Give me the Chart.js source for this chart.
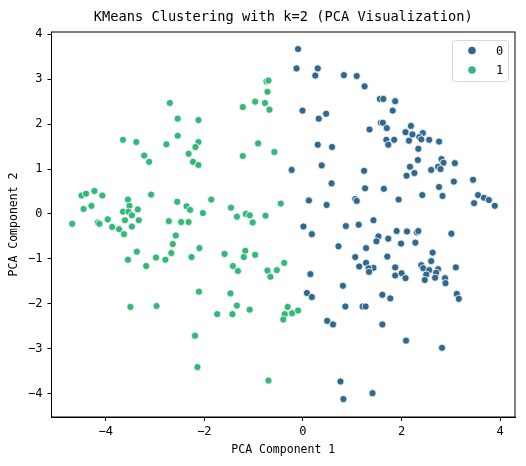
<!DOCTYPE html>
<html>
<head>
<meta charset="utf-8">
<script src="https://cdn.jsdelivr.net/npm/chart.js@4"></script>
<style>
  html, body { margin: 0; padding: 0; background: #ffffff; }
  canvas { display: block; }
</style>
</head>
<body>
<canvas id="chart" width="526" height="466"></canvas>
<script>
// cluster labels and colours (viridis, 2 colours)
const clusterLabels = ['0', '1'];
const clusterColors = ['#31688e', '#35b779'];
const chartTitle = 'KMeans Clustering with k=2 (PCA Visualization)';

// cluster 0 points [PC1, PC2]
const cluster0 = [
  [-0.10, 3.67], [-0.13, 3.24], [0.30, 3.24], [0.25, 3.08], [0.83, 3.09], [1.09, 3.07],
  [1.25, 2.84], [1.56, 2.56], [1.63, 2.56], [1.87, 2.51], [1.82, 2.30], [-0.01, 2.30],
  [0.47, 2.23], [0.32, 2.12], [1.58, 2.03], [1.62, 2.03], [1.70, 1.91], [1.35, 1.88],
  [1.69, 1.65], [1.85, 1.65], [1.73, 1.54], [0.30, 1.54], [0.59, 1.49], [-0.23, 0.98],
  [0.38, 1.08], [1.24, 0.96], [0.58, 0.68], [1.26, 0.57], [1.64, 0.56], [0.12, 0.30],
  [0.48, 0.20], [1.06, 0.33], [1.09, 0.29], [1.94, 0.32], [2.19, 1.96], [2.08, 1.82],
  [2.22, 1.77], [2.43, 1.80], [2.36, 1.71], [2.40, 1.66], [2.56, 1.65], [2.76, 1.61],
  [2.15, 1.63], [2.34, 1.45], [2.33, 1.20], [2.17, 1.05], [2.26, 0.91], [2.10, 0.85],
  [2.81, 1.22], [2.85, 1.14], [2.74, 1.05], [2.79, 1.00], [2.60, 0.98], [3.08, 1.13],
  [3.06, 0.72], [2.76, 0.60], [3.45, 0.76], [2.42, 0.42], [2.83, 0.40], [3.55, 0.42],
  [3.67, 0.36], [3.77, 0.31], [3.89, 0.18], [3.47, 0.24], [0.01, -0.28], [0.18, -0.45],
  [0.87, -0.27], [1.13, -0.24], [1.43, -0.14], [1.53, -0.50], [1.49, -0.61], [1.73, -0.55],
  [1.90, -0.38], [0.72, -0.72], [1.28, -0.76], [1.06, -0.96], [1.28, -1.09], [1.43, -1.20],
  [1.14, -1.17], [1.33, -1.21], [1.34, -1.29], [1.71, -0.95], [1.87, -1.19], [1.87, -1.37],
  [0.15, -1.34], [0.81, -1.60], [0.08, -1.76], [0.18, -1.85], [0.86, -2.06], [1.21, -2.06],
  [1.27, -2.06], [1.61, -1.80], [1.77, -1.88], [0.49, -2.38], [0.61, -2.46], [1.61, -2.46],
  [0.76, -3.73], [0.82, -4.12], [1.41, -3.99], [2.11, -0.39], [2.31, -0.41], [2.34, -0.38],
  [1.99, -0.66], [2.28, -0.64], [3.01, -0.44], [2.63, -0.86], [2.60, -1.05], [2.40, -1.14],
  [2.44, -1.21], [2.56, -1.25], [2.74, -1.23], [2.70, -1.31], [2.50, -1.35], [2.47, -1.47],
  [2.68, -1.42], [2.88, -1.43], [2.89, -1.54], [2.00, -1.32], [2.08, -1.43], [3.10, -1.19],
  [3.12, -1.78], [3.16, -1.89], [2.09, -2.82], [2.82, -2.98]
];

// cluster 1 points [PC1, PC2]
const cluster1 = [
  [-2.70, 2.47], [-2.54, 2.12], [-2.12, 2.09], [-3.65, 1.65], [-3.38, 1.60], [-2.77, 1.55],
  [-2.54, 1.74], [-2.12, 1.60], [-2.18, 1.49], [-2.32, 1.34], [-3.22, 1.30], [-3.12, 1.16],
  [-2.23, 1.16], [-2.12, 1.09], [-4.49, 0.41], [-4.40, 0.45], [-4.23, 0.51], [-4.07, 0.41],
  [-3.08, 0.43], [-4.45, 0.11], [-4.29, 0.18], [-3.55, 0.32], [-2.55, 0.27], [-2.36, 0.17],
  [-2.29, 0.09], [-1.86, 0.32], [-2.03, 0.02], [-4.68, -0.22], [-3.65, 0.05], [-3.52, 0.18],
  [-3.54, 0.05], [-3.35, 0.10], [-3.47, -0.03], [-3.61, -0.14], [-3.33, -0.14], [-4.16, -0.19],
  [-4.13, -0.22], [-3.96, -0.12], [-3.87, -0.29], [-3.73, -0.34], [-3.63, -0.45], [-3.47, -0.28],
  [-2.72, -0.16], [-2.47, -0.18], [-2.32, -0.18], [-2.58, -0.48], [-2.64, -0.67], [-2.67, -0.87],
  [-2.79, -1.02], [-2.98, -0.97], [-3.18, -1.16], [-3.37, -0.84], [-3.55, -1.02], [-2.10, -0.76],
  [-2.26, -0.96], [-2.11, -1.73], [-3.50, -2.07], [-2.97, -2.05], [-2.19, -2.71], [-0.74, 2.95],
  [-0.70, 2.97], [-0.72, 2.72], [-0.97, 2.50], [-0.77, 2.47], [-1.22, 2.38], [-0.68, 2.32],
  [-0.91, 1.57], [-0.58, 1.38], [-1.22, 1.29], [-1.46, 0.14], [-1.34, -0.06], [-1.16, 0.00],
  [-1.08, -0.03], [-0.76, -0.04], [-0.45, 0.23], [-1.02, -0.19], [-1.59, -0.89], [-1.17, -0.82],
  [-1.20, -0.96], [-0.97, -0.91], [-1.42, -1.16], [-1.32, -1.27], [-0.72, -1.26], [-0.66, -1.40],
  [-0.53, -1.25], [-0.38, -1.09], [-1.47, -1.77], [-1.34, -2.04], [-1.74, -2.23], [-1.43, -2.23],
  [-1.08, -2.13], [-0.31, -2.07], [-0.22, -2.21], [-0.10, -2.15], [-0.37, -2.23], [-0.40, -2.35],
  [-2.14, -3.41], [-0.70, -3.71]
];

// axis ticks
const xTicks = [-4, -2, 0, 2, 4];
const yTicks = [-4, -3, -2, -1, 0, 1, 2, 3, 4];

const FONT = "'DejaVu Sans Mono', monospace";
const minus = v => String(v).replace('-', '\u2212');

// black frame round the plot area + title centred over it
const framePlugin = {
  id: 'frame',
  afterDraw(chart) {
    const a = chart.chartArea, ctx = chart.ctx;
    ctx.save();
    ctx.strokeStyle = '#000';
    ctx.lineWidth = 1;
    ctx.strokeRect(a.left, a.top, a.right - a.left, a.bottom - a.top);
    ctx.fillStyle = '#000';
    ctx.font = '13.7px ' + FONT;
    ctx.textAlign = 'center';
    ctx.textBaseline = 'middle';
    ctx.fillText(chartTitle, (a.left + a.right) / 2, a.top - 15);
    ctx.restore();
  }
};

// legend box in the upper right corner
const boxLegend = {
  id: 'boxLegend',
  afterDraw(chart) {
    const a = chart.chartArea, ctx = chart.ctx;
    const w = 56, h = 41;
    const x = a.right - w - 7, y = a.top + 8;
    ctx.save();
    ctx.fillStyle = 'rgba(255,255,255,0.8)';
    ctx.strokeStyle = '#d6d6d6';
    ctx.lineWidth = 1;
    ctx.beginPath();
    ctx.roundRect(x + 0.5, y + 0.5, w, h, 3);
    ctx.fill();
    ctx.stroke();
    ctx.font = '12px ' + FONT;
    ctx.textBaseline = 'middle';
    ctx.textAlign = 'left';
    chart.data.datasets.forEach((ds, i) => {
      const cy = y + 10.5 + i * 19.5;
      ctx.beginPath();
      ctx.arc(x + 20, cy, 3.8, 0, Math.PI * 2);
      ctx.fillStyle = ds.backgroundColor;
      ctx.fill();
      ctx.fillStyle = '#000';
      ctx.fillText(ds.label, x + 44, cy + 1);
    });
    ctx.restore();
  }
};

const toPoints = arr => arr.map(p => ({ x: p[0], y: p[1] }));

new Chart(document.getElementById('chart'), {
  type: 'scatter',
  data: {
    datasets: [cluster0, cluster1].map((pts, i) => ({
      label: clusterLabels[i],
      data: toPoints(pts),
      backgroundColor: clusterColors[i],
      borderColor: '#ffffff',
      borderWidth: 0.8,
      pointRadius: 3.6,
      pointHoverRadius: 3.6
    }))
  },
  options: {
    responsive: false,
    animation: false,
    layout: { padding: { left: 0, right: 11, top: 32, bottom: 0 } },
    plugins: {
      legend: { display: false },
      tooltip: { enabled: false },
      title: { display: false }
    },
    scales: {
      x: {
        type: 'linear',
        min: -5.1,
        max: 4.3,
        afterBuildTicks: s => { s.ticks = xTicks.map(v => ({ value: v })); },
        afterFit: s => { s.height = 49; },
        grid: { display: true, drawOnChartArea: false, drawTicks: true, tickLength: 4, color: '#000' },
        border: { display: true, color: '#000' },
        ticks: {
          color: '#000',
          padding: 4,
          font: { family: FONT, size: 12 },
          callback: v => minus(v)
        },
        title: {
          display: true,
          text: 'PCA Component 1',
          color: '#000',
          font: { family: FONT, size: 11.5 },
          padding: { top: 4, bottom: 9 }
        }
      },
      y: {
        type: 'linear',
        min: -4.52,
        max: 4.05,
        afterBuildTicks: s => { s.ticks = yTicks.map(v => ({ value: v })); },
        afterFit: s => { s.width = 51.5; },
        grid: { display: true, drawOnChartArea: false, drawTicks: true, tickLength: 4, color: '#000' },
        border: { display: true, color: '#000' },
        ticks: {
          color: '#000',
          padding: 5,
          font: { family: FONT, size: 12 },
          callback: v => minus(v)
        },
        title: {
          display: true,
          text: 'PCA Component 2',
          color: '#000',
          font: { family: FONT, size: 11.5 },
          padding: { top: 7, bottom: 4 }
        }
      }
    }
  },
  plugins: [framePlugin, boxLegend]
});
</script>
</body>
</html>
